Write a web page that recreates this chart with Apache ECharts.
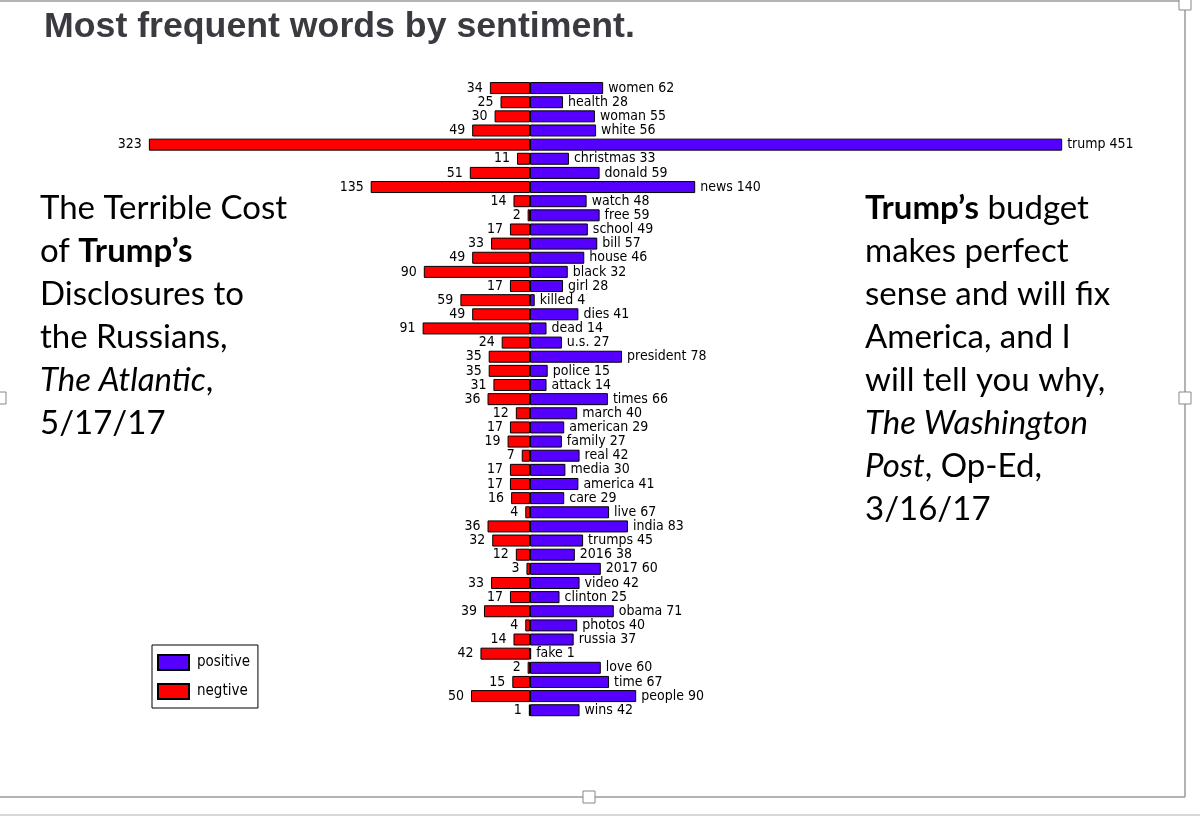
<!DOCTYPE html>
<html>
<head>
<meta charset="utf-8">
<script src="https://cdn.jsdelivr.net/npm/echarts@6/dist/echarts.min.js"></script>
<style>
html,body{margin:0;padding:0;background:#fff;}
#chart{width:1200px;height:819px;}
</style>
</head>
<body>
<div id="chart"></div>
<script>
var words = ['women','health','woman','white','trump','christmas','donald','news','watch','free','school','bill','house','black','girl','killed','dies','dead','u.s.','president','police','attack','times','march','american','family','real','media','america','care','live','india','trumps','2016','2017','video','clinton','obama','photos','russia','fake','love','time','people','wins'];
var positive = [62,28,55,56,451,33,59,140,48,59,49,57,46,32,28,4,41,14,27,78,15,14,66,40,29,27,42,30,41,29,67,83,45,38,60,42,25,71,40,37,1,60,67,90,42];
var negative = [34,25,30,49,323,11,51,135,14,2,17,33,49,90,17,59,49,91,24,35,35,31,36,12,17,19,7,17,17,16,4,36,32,12,3,33,17,39,4,14,42,2,15,50,1];
var legendNames = ['positive','negtive'];
var titleText = 'Most frequent words by sentiment.';
var leftLines = ['The Terrible Cost','of {b|Trump\u2019s}','Disclosures to','the Russians,','{i|The Atlantic},','5/17/17'];
var rightLines = ['{b|Trump\u2019s} budget','makes perfect','sense and will fix','America, and I','will tell you why,','{i|The Washington}','{i|Post}, Op-Ed,','3/16/17'];

var labelFont = "'DejaVu Sans Condensed', 'Liberation Sans Narrow', 'DejaVu Sans', sans-serif";
var textFont = "Lato, 'Open Sans', sans-serif";
var textSize = 33;

var chart = echarts.init(document.getElementById('chart'));

var graphics = [];
function addBlock(lines, x, y0) {
  lines.forEach(function (t, i) {
    graphics.push({
      type: 'text', left: x, top: y0 + i * 43,
      style: {
        text: t, fill: '#000', font: textSize + 'px ' + textFont,
        rich: {
          b: { fontWeight: 'bold', fontSize: textSize, fontFamily: textFont, fill: '#000' },
          i: { fontStyle: 'italic', fontSize: textSize, fontFamily: textFont, fill: '#000' }
        }
      }
    });
  });
}
addBlock(leftLines, 40, 192);
addBlock(rightLines, 865, 192);

// frame lines and selection handles
var frameColor = '#9a9a9a';
graphics.push({type:'line', shape:{x1:0,y1:1,x2:1185,y2:1}, style:{stroke:frameColor, lineWidth:1.5}});
graphics.push({type:'line', shape:{x1:1185,y1:0,x2:1185,y2:797}, style:{stroke:frameColor, lineWidth:1.5}});
graphics.push({type:'line', shape:{x1:0,y1:797,x2:1185,y2:797}, style:{stroke:frameColor, lineWidth:1.5}});
graphics.push({type:'line', shape:{x1:0,y1:815,x2:1200,y2:815}, style:{stroke:'#b0b0b0', lineWidth:1}});
[[1185,4],[1185,398],[589,797],[0,398]].forEach(function (p) {
  graphics.push({type:'rect', shape:{x:p[0]-6,y:p[1]-6,width:12,height:12}, style:{fill:'#fff', stroke:'#888', lineWidth:1}, z:10});
});

chart.setOption({
  animation: false,
  backgroundColor: '#fff',
  title: {
    text: titleText, left: 39, top: 4,
    textStyle: { fontSize: 35.7, fontWeight: 'bold', color: '#3a3a40', fontFamily: "'Liberation Sans', Arial, sans-serif" }
  },
  legend: {
    data: legendNames, orient: 'vertical', left: 152, top: 645,
    backgroundColor: '#fff',
    borderColor: '#000', borderWidth: 1, borderRadius: 0,
    padding: [9, 8, 8, 5],
    itemWidth: 31, itemHeight: 15, itemGap: 12, icon: 'rect',
    textStyle: { fontSize: 15, fontFamily: labelFont, color: '#000', padding: [0, 0, 0, 3] }
  },
  grid: { left: 58, width: 1062, top: 81, height: 636.3, containLabel: false },
  xAxis: { type: 'value', min: -400, max: 500, show: false },
  yAxis: {
    type: 'category', data: words, inverse: true,
    axisLine: { show: false }, axisTick: { show: false }, axisLabel: { show: false }, splitLine: { show: false }
  },
  graphic: graphics,
  series: [
    {
      name: legendNames[0], type: 'bar', barWidth: 12, barGap: '-100%',
      data: positive,
      itemStyle: { color: '#5500ff', borderColor: '#000', borderWidth: 1 },
      label: {
        show: true, position: 'right', distance: 5,
        fontSize: 14, fontFamily: labelFont, color: '#000',
        formatter: function (p) { return words[p.dataIndex] + ' ' + p.value; }
      }
    },
    {
      name: legendNames[1], type: 'bar', barWidth: 12, barGap: '-100%',
      data: negative.map(function (v) { return -v; }),
      itemStyle: { color: '#ff0000', borderColor: '#000', borderWidth: 1 },
      label: {
        show: true, position: 'left', distance: 7,
        fontSize: 14, fontFamily: labelFont, color: '#000',
        formatter: function (p) { return String(Math.abs(p.value)); }
      }
    }
  ]
});
</script>
</body>
</html>
